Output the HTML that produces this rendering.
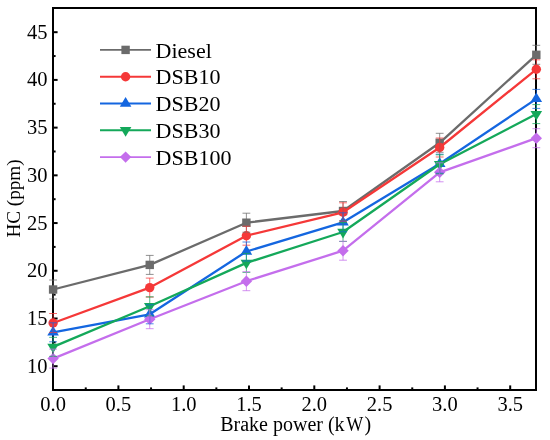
<!DOCTYPE html>
<html><head><meta charset="utf-8"><title>HC vs Brake power</title>
<style>html,body{margin:0;padding:0;background:#fff;}body{width:550px;height:440px;overflow:hidden;}svg{display:block;}</style>
</head><body>
<svg width="550" height="440" viewBox="0 0 550 440">
<rect width="550" height="440" fill="#fff"/>
<g><path d="M85.75 390V387.40" stroke="#000" stroke-width="2"/><path d="M118.40 390V385.40" stroke="#000" stroke-width="2"/><path d="M151.05 390V387.40" stroke="#000" stroke-width="2"/><path d="M183.70 390V385.40" stroke="#000" stroke-width="2"/><path d="M216.35 390V387.40" stroke="#000" stroke-width="2"/><path d="M249.00 390V385.40" stroke="#000" stroke-width="2"/><path d="M281.65 390V387.40" stroke="#000" stroke-width="2"/><path d="M314.30 390V385.40" stroke="#000" stroke-width="2"/><path d="M346.95 390V387.40" stroke="#000" stroke-width="2"/><path d="M379.60 390V385.40" stroke="#000" stroke-width="2"/><path d="M412.25 390V387.40" stroke="#000" stroke-width="2"/><path d="M444.90 390V385.40" stroke="#000" stroke-width="2"/><path d="M477.55 390V387.40" stroke="#000" stroke-width="2"/><path d="M510.20 390V385.40" stroke="#000" stroke-width="2"/><path d="M53 366.20H57.60" stroke="#000" stroke-width="2"/><path d="M53 318.49H57.60" stroke="#000" stroke-width="2"/><path d="M53 270.77H57.60" stroke="#000" stroke-width="2"/><path d="M53 223.06H57.60" stroke="#000" stroke-width="2"/><path d="M53 175.34H57.60" stroke="#000" stroke-width="2"/><path d="M53 127.62H57.60" stroke="#000" stroke-width="2"/><path d="M53 79.91H57.60" stroke="#000" stroke-width="2"/><path d="M53 32.19H57.60" stroke="#000" stroke-width="2"/><path d="M53 342.34H55.60" stroke="#000" stroke-width="2"/><path d="M53 294.63H55.60" stroke="#000" stroke-width="2"/><path d="M53 246.91H55.60" stroke="#000" stroke-width="2"/><path d="M53 199.20H55.60" stroke="#000" stroke-width="2"/><path d="M53 151.48H55.60" stroke="#000" stroke-width="2"/><path d="M53 103.77H55.60" stroke="#000" stroke-width="2"/><path d="M53 56.05H55.60" stroke="#000" stroke-width="2"/></g>
<rect x="53" y="8" width="483" height="382" fill="none" stroke="#000" stroke-width="2"/>
<g><polyline points="53.10,289.50 149.74,264.90 246.39,222.70 343.03,211.00 439.68,142.80 536.32,54.80" fill="none" stroke="#6b6b6b" stroke-width="2.3" stroke-linejoin="round"/><rect x="48.90" y="285.30" width="8.4" height="8.4" fill="#6b6b6b"/><rect x="145.54" y="260.70" width="8.4" height="8.4" fill="#6b6b6b"/><rect x="242.19" y="218.50" width="8.4" height="8.4" fill="#6b6b6b"/><rect x="338.83" y="206.80" width="8.4" height="8.4" fill="#6b6b6b"/><rect x="435.48" y="138.60" width="8.4" height="8.4" fill="#6b6b6b"/><rect x="532.12" y="50.60" width="8.4" height="8.4" fill="#6b6b6b"/><polyline points="53.10,323.00 149.74,287.60 246.39,235.70 343.03,212.30 439.68,147.50 536.32,69.30" fill="none" stroke="#f53838" stroke-width="2.3" stroke-linejoin="round"/><circle cx="53.10" cy="323.00" r="4.7" fill="#f53838"/><circle cx="149.74" cy="287.60" r="4.7" fill="#f53838"/><circle cx="246.39" cy="235.70" r="4.7" fill="#f53838"/><circle cx="343.03" cy="212.30" r="4.7" fill="#f53838"/><circle cx="439.68" cy="147.50" r="4.7" fill="#f53838"/><circle cx="536.32" cy="69.30" r="4.7" fill="#f53838"/><polyline points="53.10,332.30 149.74,314.30 246.39,251.50 343.03,222.30 439.68,163.70 536.32,98.90" fill="none" stroke="#1466e0" stroke-width="2.3" stroke-linejoin="round"/><path d="M53.10 325.90L58.90 335.50L47.30 335.50Z" fill="#1466e0"/><path d="M149.74 307.90L155.54 317.50L143.94 317.50Z" fill="#1466e0"/><path d="M246.39 245.10L252.19 254.70L240.59 254.70Z" fill="#1466e0"/><path d="M343.03 215.90L348.83 225.50L337.23 225.50Z" fill="#1466e0"/><path d="M439.68 157.30L445.48 166.90L433.88 166.90Z" fill="#1466e0"/><path d="M536.32 92.50L542.12 102.10L530.52 102.10Z" fill="#1466e0"/><polyline points="53.10,346.85 149.74,306.30 246.39,262.90 343.03,232.00 439.68,164.30 536.32,114.10" fill="none" stroke="#14a85a" stroke-width="2.3" stroke-linejoin="round"/><path d="M53.10 353.25L58.90 343.65L47.30 343.65Z" fill="#14a85a"/><path d="M149.74 312.70L155.54 303.10L143.94 303.10Z" fill="#14a85a"/><path d="M246.39 269.30L252.19 259.70L240.59 259.70Z" fill="#14a85a"/><path d="M343.03 238.40L348.83 228.80L337.23 228.80Z" fill="#14a85a"/><path d="M439.68 170.70L445.48 161.10L433.88 161.10Z" fill="#14a85a"/><path d="M536.32 120.50L542.12 110.90L530.52 110.90Z" fill="#14a85a"/><polyline points="53.10,358.60 149.74,319.20 246.39,281.20 343.03,250.70 439.68,172.30 536.32,138.20" fill="none" stroke="#c46eec" stroke-width="2.3" stroke-linejoin="round"/><path d="M53.10 352.90L58.80 358.60L53.10 364.30L47.40 358.60Z" fill="#c46eec"/><path d="M149.74 313.50L155.44 319.20L149.74 324.90L144.04 319.20Z" fill="#c46eec"/><path d="M246.39 275.50L252.09 281.20L246.39 286.90L240.69 281.20Z" fill="#c46eec"/><path d="M343.03 245.00L348.73 250.70L343.03 256.40L337.33 250.70Z" fill="#c46eec"/><path d="M439.68 166.60L445.38 172.30L439.68 178.00L433.98 172.30Z" fill="#c46eec"/><path d="M536.32 132.50L542.02 138.20L536.32 143.90L530.62 138.20Z" fill="#c46eec"/><path d="M53.10 280.00V299.00" stroke="#6b6b6b" stroke-width="1.0" fill="none" opacity="0.75"/><path d="M49.20 280.00H57.00M49.20 299.00H57.00" stroke="#6b6b6b" stroke-width="1" fill="none" opacity="0.75"/><path d="M149.74 255.40V274.40" stroke="#6b6b6b" stroke-width="1.0" fill="none" opacity="0.75"/><path d="M145.84 255.40H153.64M145.84 274.40H153.64" stroke="#6b6b6b" stroke-width="1" fill="none" opacity="0.75"/><path d="M246.39 213.20V232.20" stroke="#6b6b6b" stroke-width="1.0" fill="none" opacity="0.75"/><path d="M242.49 213.20H250.29M242.49 232.20H250.29" stroke="#6b6b6b" stroke-width="1" fill="none" opacity="0.75"/><path d="M343.03 201.50V220.50" stroke="#6b6b6b" stroke-width="1.0" fill="none" opacity="0.75"/><path d="M339.13 201.50H346.93M339.13 220.50H346.93" stroke="#6b6b6b" stroke-width="1" fill="none" opacity="0.75"/><path d="M439.68 133.30V152.30" stroke="#6b6b6b" stroke-width="1.0" fill="none" opacity="0.75"/><path d="M435.78 133.30H443.58M435.78 152.30H443.58" stroke="#6b6b6b" stroke-width="1" fill="none" opacity="0.75"/><path d="M536.32 45.30V64.30" stroke="#6b6b6b" stroke-width="1.0" fill="none" opacity="0.75"/><path d="M532.42 45.30H540.22M532.42 64.30H540.22" stroke="#6b6b6b" stroke-width="1" fill="none" opacity="0.75"/><path d="M53.10 313.50V332.50" stroke="#f53838" stroke-width="1.0" fill="none" opacity="0.75"/><path d="M49.20 313.50H57.00M49.20 332.50H57.00" stroke="#f53838" stroke-width="1" fill="none" opacity="0.75"/><path d="M149.74 278.10V297.10" stroke="#f53838" stroke-width="1.0" fill="none" opacity="0.75"/><path d="M145.84 278.10H153.64M145.84 297.10H153.64" stroke="#f53838" stroke-width="1" fill="none" opacity="0.75"/><path d="M246.39 226.20V245.20" stroke="#f53838" stroke-width="1.0" fill="none" opacity="0.75"/><path d="M242.49 226.20H250.29M242.49 245.20H250.29" stroke="#f53838" stroke-width="1" fill="none" opacity="0.75"/><path d="M343.03 202.80V221.80" stroke="#f53838" stroke-width="1.0" fill="none" opacity="0.75"/><path d="M339.13 202.80H346.93M339.13 221.80H346.93" stroke="#f53838" stroke-width="1" fill="none" opacity="0.75"/><path d="M439.68 138.00V157.00" stroke="#f53838" stroke-width="1.0" fill="none" opacity="0.75"/><path d="M435.78 138.00H443.58M435.78 157.00H443.58" stroke="#f53838" stroke-width="1" fill="none" opacity="0.75"/><path d="M536.32 59.80V78.80" stroke="#f53838" stroke-width="1.0" fill="none" opacity="0.75"/><path d="M532.42 59.80H540.22M532.42 78.80H540.22" stroke="#f53838" stroke-width="1" fill="none" opacity="0.75"/><path d="M53.10 322.80V341.80" stroke="#1466e0" stroke-width="1.0" fill="none" opacity="0.75"/><path d="M49.20 322.80H57.00M49.20 341.80H57.00" stroke="#1466e0" stroke-width="1" fill="none" opacity="0.75"/><path d="M149.74 304.80V323.80" stroke="#1466e0" stroke-width="1.0" fill="none" opacity="0.75"/><path d="M145.84 304.80H153.64M145.84 323.80H153.64" stroke="#1466e0" stroke-width="1" fill="none" opacity="0.75"/><path d="M246.39 242.00V261.00" stroke="#1466e0" stroke-width="1.0" fill="none" opacity="0.75"/><path d="M242.49 242.00H250.29M242.49 261.00H250.29" stroke="#1466e0" stroke-width="1" fill="none" opacity="0.75"/><path d="M343.03 212.80V231.80" stroke="#1466e0" stroke-width="1.0" fill="none" opacity="0.75"/><path d="M339.13 212.80H346.93M339.13 231.80H346.93" stroke="#1466e0" stroke-width="1" fill="none" opacity="0.75"/><path d="M439.68 154.20V173.20" stroke="#1466e0" stroke-width="1.0" fill="none" opacity="0.75"/><path d="M435.78 154.20H443.58M435.78 173.20H443.58" stroke="#1466e0" stroke-width="1" fill="none" opacity="0.75"/><path d="M536.32 89.40V108.40" stroke="#1466e0" stroke-width="1.0" fill="none" opacity="0.75"/><path d="M532.42 89.40H540.22M532.42 108.40H540.22" stroke="#1466e0" stroke-width="1" fill="none" opacity="0.75"/><path d="M53.10 337.35V356.35" stroke="#14a85a" stroke-width="1.0" fill="none" opacity="0.75"/><path d="M49.20 337.35H57.00M49.20 356.35H57.00" stroke="#14a85a" stroke-width="1" fill="none" opacity="0.75"/><path d="M149.74 296.80V315.80" stroke="#14a85a" stroke-width="1.0" fill="none" opacity="0.75"/><path d="M145.84 296.80H153.64M145.84 315.80H153.64" stroke="#14a85a" stroke-width="1" fill="none" opacity="0.75"/><path d="M246.39 253.40V272.40" stroke="#14a85a" stroke-width="1.0" fill="none" opacity="0.75"/><path d="M242.49 253.40H250.29M242.49 272.40H250.29" stroke="#14a85a" stroke-width="1" fill="none" opacity="0.75"/><path d="M343.03 222.50V241.50" stroke="#14a85a" stroke-width="1.0" fill="none" opacity="0.75"/><path d="M339.13 222.50H346.93M339.13 241.50H346.93" stroke="#14a85a" stroke-width="1" fill="none" opacity="0.75"/><path d="M439.68 154.80V173.80" stroke="#14a85a" stroke-width="1.0" fill="none" opacity="0.75"/><path d="M435.78 154.80H443.58M435.78 173.80H443.58" stroke="#14a85a" stroke-width="1" fill="none" opacity="0.75"/><path d="M536.32 104.60V123.60" stroke="#14a85a" stroke-width="1.0" fill="none" opacity="0.75"/><path d="M532.42 104.60H540.22M532.42 123.60H540.22" stroke="#14a85a" stroke-width="1" fill="none" opacity="0.75"/><path d="M53.10 349.10V368.10" stroke="#c46eec" stroke-width="1.0" fill="none" opacity="0.75"/><path d="M49.20 349.10H57.00M49.20 368.10H57.00" stroke="#c46eec" stroke-width="1" fill="none" opacity="0.75"/><path d="M149.74 309.70V328.70" stroke="#c46eec" stroke-width="1.0" fill="none" opacity="0.75"/><path d="M145.84 309.70H153.64M145.84 328.70H153.64" stroke="#c46eec" stroke-width="1" fill="none" opacity="0.75"/><path d="M246.39 271.70V290.70" stroke="#c46eec" stroke-width="1.0" fill="none" opacity="0.75"/><path d="M242.49 271.70H250.29M242.49 290.70H250.29" stroke="#c46eec" stroke-width="1" fill="none" opacity="0.75"/><path d="M343.03 241.20V260.20" stroke="#c46eec" stroke-width="1.0" fill="none" opacity="0.75"/><path d="M339.13 241.20H346.93M339.13 260.20H346.93" stroke="#c46eec" stroke-width="1" fill="none" opacity="0.75"/><path d="M439.68 162.80V181.80" stroke="#c46eec" stroke-width="1.0" fill="none" opacity="0.75"/><path d="M435.78 162.80H443.58M435.78 181.80H443.58" stroke="#c46eec" stroke-width="1" fill="none" opacity="0.75"/><path d="M536.32 128.70V147.70" stroke="#c46eec" stroke-width="1.0" fill="none" opacity="0.75"/><path d="M532.42 128.70H540.22M532.42 147.70H540.22" stroke="#c46eec" stroke-width="1" fill="none" opacity="0.75"/></g>
<g font-family="'Liberation Serif', 'Times New Roman', serif" font-size="20.5" fill="#000"><text x="53.10" y="411" text-anchor="middle">0.0</text><text x="118.40" y="411" text-anchor="middle">0.5</text><text x="183.70" y="411" text-anchor="middle">1.0</text><text x="249.00" y="411" text-anchor="middle">1.5</text><text x="314.30" y="411" text-anchor="middle">2.0</text><text x="379.60" y="411" text-anchor="middle">2.5</text><text x="444.90" y="411" text-anchor="middle">3.0</text><text x="510.20" y="411" text-anchor="middle">3.5</text><text x="47.5" y="372.70" text-anchor="end">10</text><text x="47.5" y="324.99" text-anchor="end">15</text><text x="47.5" y="277.27" text-anchor="end">20</text><text x="47.5" y="229.56" text-anchor="end">25</text><text x="47.5" y="181.84" text-anchor="end">30</text><text x="47.5" y="134.12" text-anchor="end">35</text><text x="47.5" y="86.41" text-anchor="end">40</text><text x="47.5" y="38.69" text-anchor="end">45</text><text x="220.2" y="430.8" font-size="20">Brake power (k</text><text transform="translate(346.3,430.8) scale(0.9,1)" font-size="20">W</text><text x="364.6" y="430.8" font-size="20">)</text><text transform="translate(20.1,237.6) rotate(-90)" font-size="19.7" textLength="78.2" lengthAdjust="spacingAndGlyphs">HC (ppm)</text><path d="M100.0 49.90H151.0" stroke="#6b6b6b" stroke-width="1.9"/><rect x="121.40" y="45.70" width="8.4" height="8.4" fill="#6b6b6b"/><text x="155.6" y="57.50" font-size="22">Diesel</text><path d="M100.0 76.70H151.0" stroke="#f53838" stroke-width="1.9"/><circle cx="125.60" cy="76.70" r="4.7" fill="#f53838"/><text x="155.6" y="84.30" font-size="22">DSB10</text><path d="M100.0 103.50H151.0" stroke="#1466e0" stroke-width="1.9"/><path d="M125.60 97.10L131.40 106.70L119.80 106.70Z" fill="#1466e0"/><text x="155.6" y="111.10" font-size="22">DSB20</text><path d="M100.0 130.30H151.0" stroke="#14a85a" stroke-width="1.9"/><path d="M125.60 136.70L131.40 127.10L119.80 127.10Z" fill="#14a85a"/><text x="155.6" y="137.90" font-size="22">DSB30</text><path d="M100.0 157.10H151.0" stroke="#c46eec" stroke-width="1.9"/><path d="M125.60 151.40L131.30 157.10L125.60 162.80L119.90 157.10Z" fill="#c46eec"/><text x="155.6" y="164.70" font-size="22">DSB100</text></g>
</svg>
</body></html>
